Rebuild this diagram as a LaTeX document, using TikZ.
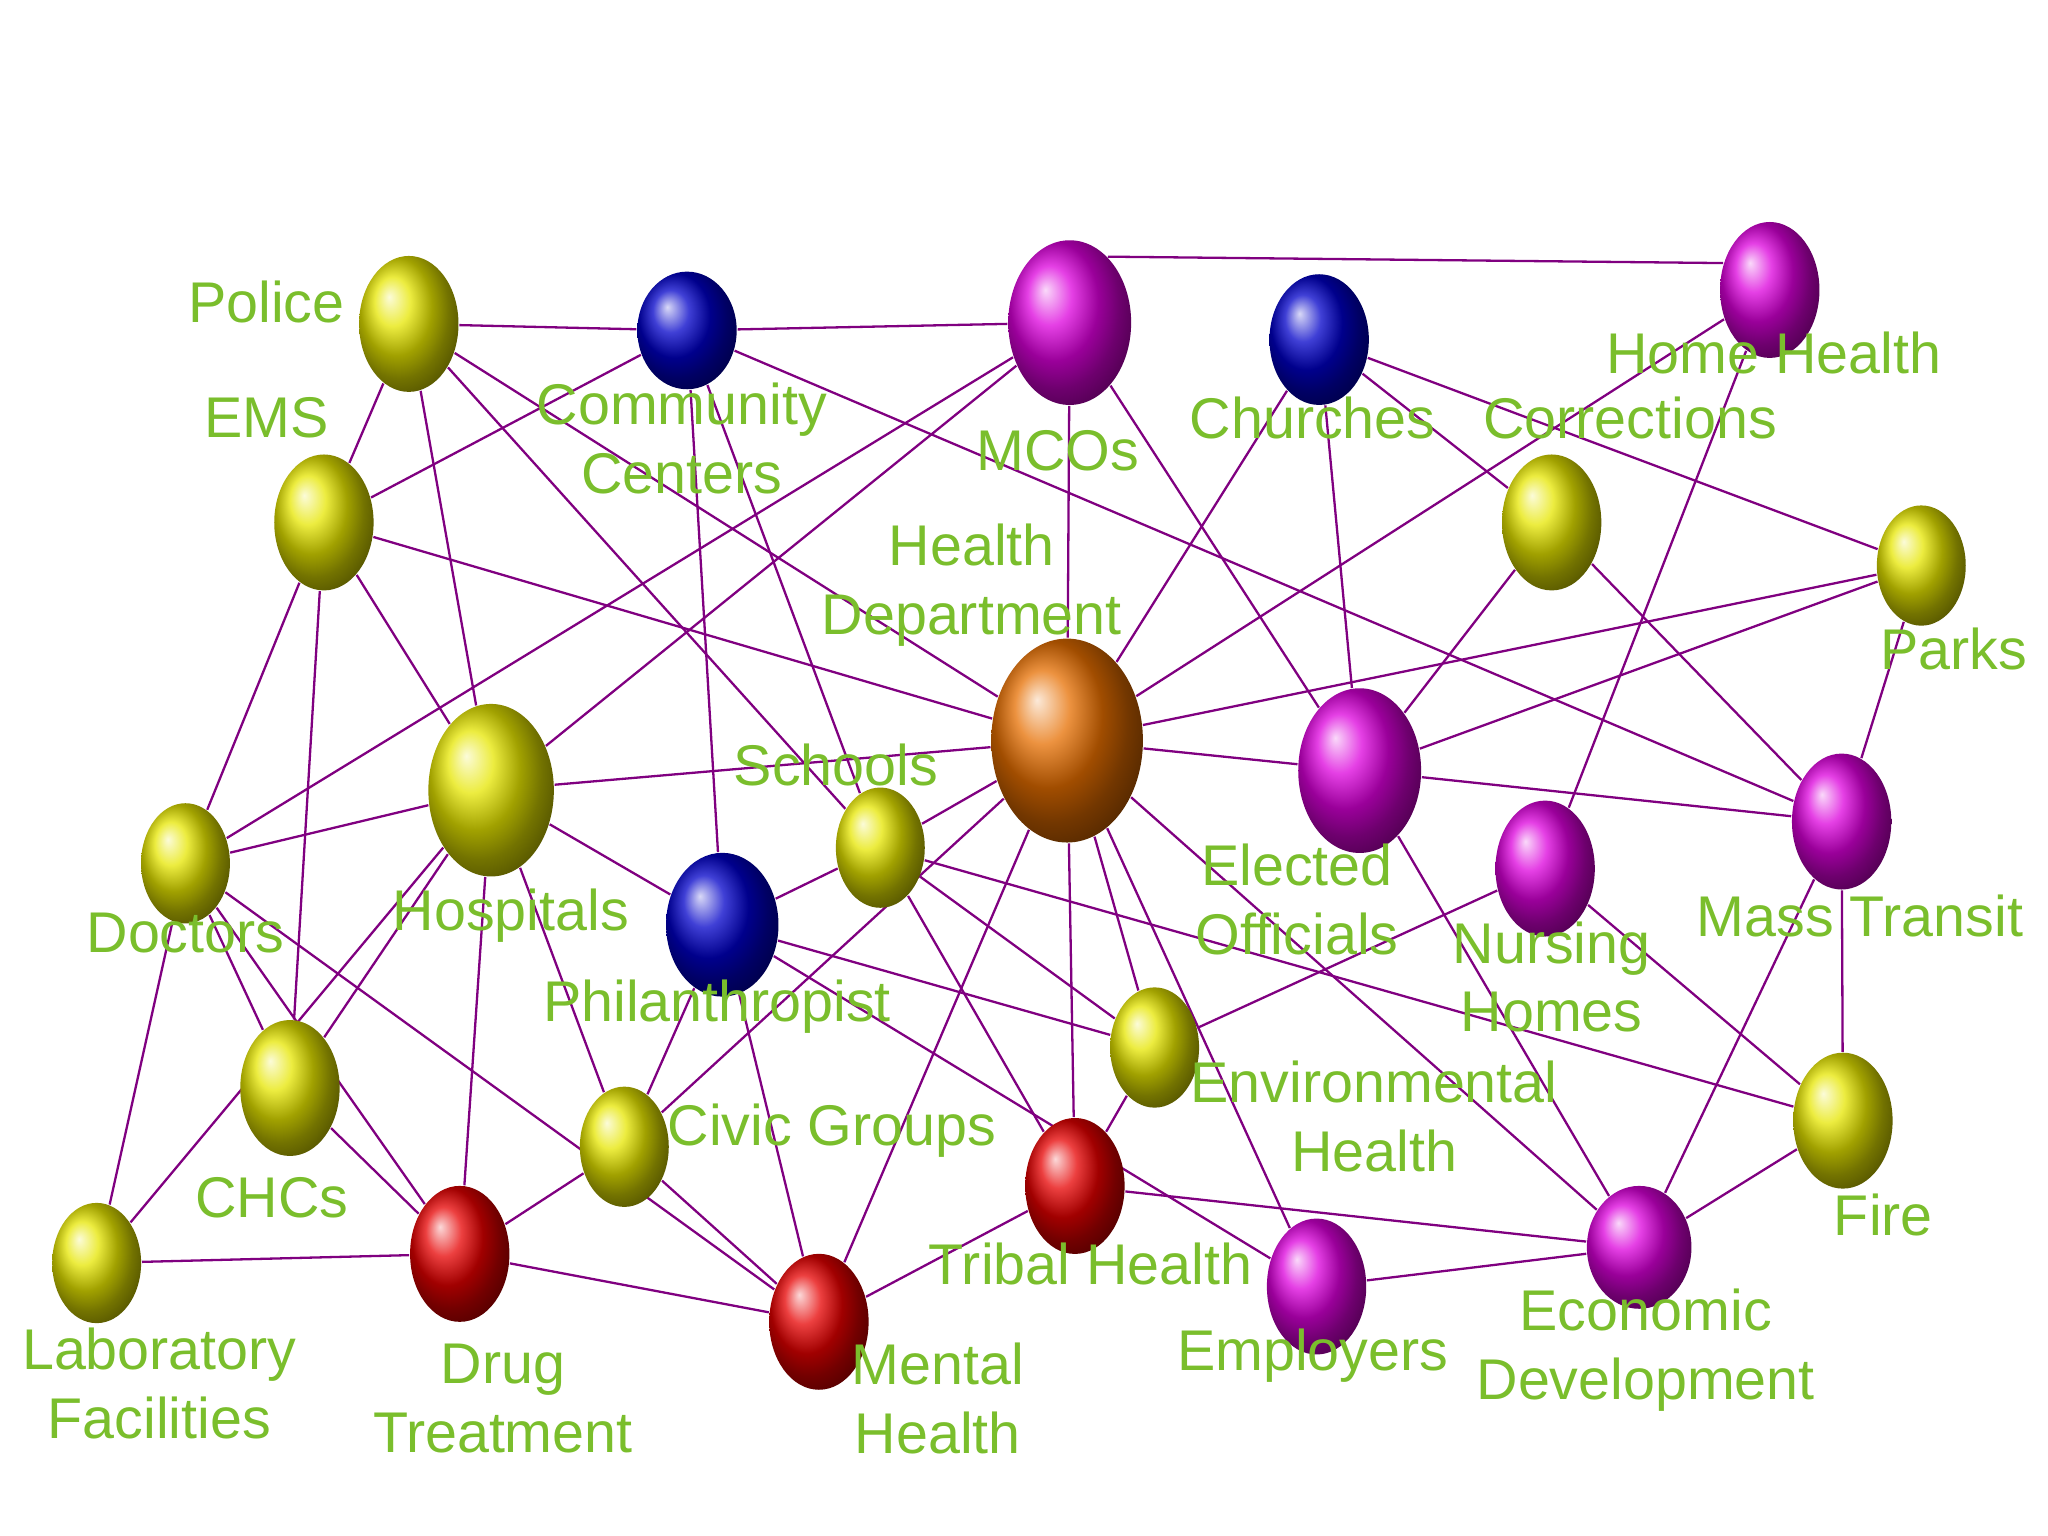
\documentclass[tikz,border=0pt]{standalone}
\usepackage{fontspec}
\setmainfont{Liberation Sans}
\usetikzlibrary{shapes.geometric}
\definecolor{lbl}{RGB}{122,190,44}
\definecolor{edge}{RGB}{128,0,128}
\definecolor{yel}{RGB}{230,230,0}
\definecolor{blu}{RGB}{0,0,200}
\definecolor{mag}{RGB}{220,0,220}
\definecolor{redb}{RGB}{230,0,0}
\definecolor{org}{RGB}{230,110,0}
\tikzset{
 ball/.style={ellipse,shading=ball,ball color=#1,inner sep=0pt},
 lab/.style={text=lbl,font=\fontsize{12.5pt}{15pt}\selectfont,align=center,inner sep=0pt},
 con/.style={draw=edge,line width=0.5pt}
}
\begin{document}
\begin{tikzpicture}[x=0.01cm,y=-0.01cm]
\useasboundingbox (0,0) rectangle (1568,1176);
\def\B#1#2#3#4#5#6{\node[ball=#6,minimum width=#4*0.02cm,minimum height=#5*0.02cm] (#1) at (#2,#3) {};}
\begin{scope}[opacity=0]
\B{pol}{313}{248}{38}{52}{yel}
\B{cc}{526}{253}{38}{45}{blu}
\B{mco}{819}{247}{47}{63}{mag}
\B{chu}{1010}{260}{38}{50}{blu}
\B{hh}{1355}{222}{38}{52}{mag}
\B{cor}{1188}{400}{38}{52}{yel}
\B{par}{1471}{433}{34}{46}{yel}
\B{ems}{248}{400}{38}{52}{yel}
\B{hd}{817}{567}{58}{78}{org}
\B{hos}{376}{605}{48}{66}{yel}
\B{sch}{674}{649}{34}{46}{yel}
\B{eo}{1041}{590}{47}{63}{mag}
\B{mt}{1410}{629}{38}{52}{mag}
\B{nh}{1183}{665}{38}{52}{mag}
\B{doc}{142}{661}{34}{46}{yel}
\B{phi}{553}{708}{43}{55}{blu}
\B{env}{884}{802}{34}{46}{yel}
\B{fir}{1411}{858}{38}{52}{yel}
\B{chc}{222}{833}{38}{52}{yel}
\B{civ}{478}{878}{34}{46}{yel}
\B{tri}{823}{908}{38}{52}{redb}
\B{lab}{74}{967}{34}{46}{yel}
\B{dru}{352}{960}{38}{52}{redb}
\B{men}{627}{1012}{38}{52}{redb}
\B{emp}{1008}{985}{38}{52}{mag}
\B{eco}{1255}{955}{40}{47}{mag}
\end{scope}
\draw[con] (mco.60) -- (hh.150);
\foreach \a/\b in {pol/cc,pol/ems,pol/hos,pol/hd,pol/sch,cc/mco,cc/ems,cc/phi,cc/sch,cc/mt,
 mco/doc,mco/hos,mco/hd,mco/eo,chu/hd,chu/eo,chu/cor,chu/par,hh/hd,hh/nh,
 cor/eo,cor/mt,par/hd,par/eo,par/mt,ems/doc,ems/chc,ems/hos,ems/hd,hos/doc,hos/hd,
 hos/phi,hos/civ,hos/dru,hos/lab,hos/chc,doc/lab,doc/dru,doc/men,doc/chc,chc/dru,lab/dru,
 dru/men,dru/civ,civ/men,civ/phi,civ/hd,phi/sch,phi/men,phi/env,phi/emp,sch/hd,sch/env,
 sch/tri,sch/fir,hd/eo,hd/men,hd/tri,hd/env,hd/emp,hd/eco,eo/mt,eo/eco,env/nh,env/tri,
 tri/men,tri/eco,emp/eco,eco/fir,eco/mt,mt/fir,nh/fir}
 \draw[con] (\a) -- (\b);
\B{pol}{313}{248}{38}{52}{yel}
\B{cc}{526}{253}{38}{45}{blu}
\B{mco}{819}{247}{47}{63}{mag}
\B{chu}{1010}{260}{38}{50}{blu}
\B{hh}{1355}{222}{38}{52}{mag}
\B{cor}{1188}{400}{38}{52}{yel}
\B{par}{1471}{433}{34}{46}{yel}
\B{ems}{248}{400}{38}{52}{yel}
\B{hd}{817}{567}{58}{78}{org}
\B{hos}{376}{605}{48}{66}{yel}
\B{sch}{674}{649}{34}{46}{yel}
\B{eo}{1041}{590}{47}{63}{mag}
\B{mt}{1410}{629}{38}{52}{mag}
\B{nh}{1183}{665}{38}{52}{mag}
\B{doc}{142}{661}{34}{46}{yel}
\B{phi}{553}{708}{43}{55}{blu}
\B{env}{884}{802}{34}{46}{yel}
\B{fir}{1411}{858}{38}{52}{yel}
\B{chc}{222}{833}{38}{52}{yel}
\B{civ}{478}{878}{34}{46}{yel}
\B{tri}{823}{908}{38}{52}{redb}
\B{lab}{74}{967}{34}{46}{yel}
\B{dru}{352}{960}{38}{52}{redb}
\B{men}{627}{1012}{38}{52}{redb}
\B{emp}{1008}{985}{38}{52}{mag}
\B{eco}{1255}{955}{40}{47}{mag}
\node[lab] (lpol) at (204,231) {Police};
\node[lab] (lcc) at (522,336) {Community\\Centers};
\node[lab] (lmco) at (810,345) {MCOs};
\node[lab] (lchu) at (1005,320) {Churches};
\node[lab] (lhh) at (1358,270) {Home Health};
\node[lab] (lcor) at (1248,320) {Corrections};
\node[lab] (lpar) at (1496,497) {Parks};
\node[lab] (lems) at (204,320) {EMS};
\node[lab] (lhd) at (744,448) {Health\\Department};
\node[lab] (lhos) at (391,701) {Hospitals};
\node[lab] (lsch) at (640,586) {Schools};
\node[lab] (leo) at (993,689) {Elected\\Officials};
\node[lab] (lmt) at (1424,701) {Mass Transit};
\node[lab] (lnh) at (1188,748) {Nursing\\Homes};
\node[lab] (ldoc) at (142,714) {Doctors};
\node[lab] (lphi) at (549,771) {Philanthropist};
\node[lab] (lenv) at (1052,855) {Environmental\\Health};
\node[lab] (lfir) at (1442,930) {Fire};
\node[lab] (lchc) at (208,917) {CHCs};
\node[lab] (lciv) at (637,866) {Civic Groups};
\node[lab] (ltri) at (835,968) {Tribal Health};
\node[lab] (llab) at (122,1059) {Laboratory\\Facilities};
\node[lab] (ldru) at (385,1071) {Drug\\Treatment};
\node[lab] (lmen) at (718,1071) {Mental\\Health};
\node[lab] (lemp) at (1005,1038) {Employers};
\node[lab] (leco) at (1260,1034) {Economic\\Development};
\end{tikzpicture}
\end{document}
